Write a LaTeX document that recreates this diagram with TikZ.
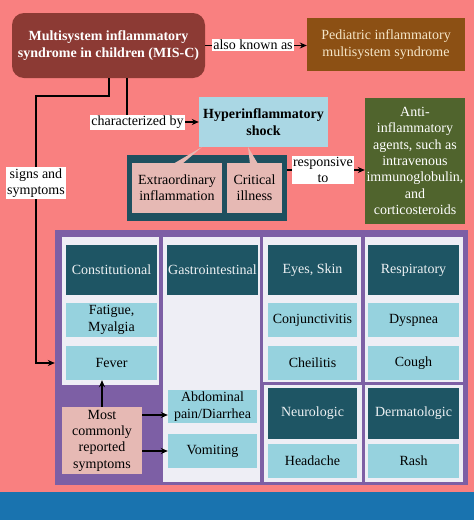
\documentclass[tikz,border=0pt]{standalone}
\usepackage{fontspec}
\setmainfont{Liberation Serif}
\usetikzlibrary{arrows.meta}
\definecolor{sfondo}{RGB}{249,128,128}
\definecolor{barra}{RGB}{25,115,175}
\definecolor{misc}{RGB}{140,58,52}
\definecolor{marrone}{RGB}{140,80,20}
\definecolor{crema}{RGB}{245,230,200}
\definecolor{iper}{RGB}{170,215,228}
\definecolor{petrolio}{RGB}{30,80,95}
\definecolor{rosa}{RGB}{230,185,180}
\definecolor{oliva}{RGB}{80,100,45}
\definecolor{viola}{RGB}{125,95,165}
\definecolor{pannello}{RGB}{238,238,245}
\definecolor{testa}{RGB}{30,85,100}
\definecolor{voce}{RGB}{150,210,222}
\newcommand\mainfs{\fontsize{14}{16.3}\selectfont}
\tikzset{
>={Stealth[length=7pt,width=6pt]},
box node/.style={inner sep=0pt,align=center},
head node/.style={box node,fill=testa,text=white!92!testa,minimum height=50pt},
item node/.style={box node,fill=voce,minimum height=34pt},
pink node/.style={box node,fill=rosa},
label node/.style={fill=white,inner sep=1pt,align=center},
freccia/.style={->,line width=1.1pt}}

\begin{document}
\begin{tikzpicture}[x=1pt,y=-1pt,font=\mainfs]

\fill[sfondo] (0,0) rectangle (474,492);
\fill[barra] (0,492) rectangle (474,520);
\useasboundingbox (0,0) rectangle (474,520);

\node[box node,fill=misc,text=white,font=\mainfs\bfseries,rounded corners=12pt,
  minimum width=193pt,minimum height=65pt] (misc) at (108.5,45.5)
  {Multisystem inflammatory\\syndrome in children (MIS-C)};
\node[box node,fill=marrone,text=crema,minimum width=158pt,minimum height=53pt]
  (pim) at (386,44.5) {Pediatric inflammatory\\multisystem syndrome};
\node[box node,fill=iper,font=\mainfs\bfseries,minimum width=129pt,minimum height=50pt]
  (hyper) at (263.5,122) {Hyperinflammatory\\shock};
\node[box node,fill=oliva,text=white,minimum width=100pt,minimum height=126pt]
  (anti) at (415,161) {Anti-\\inflammatory\\agents, such as\\intravenous\\immunoglobulin,\\and\\corticosteroids};

\node[fill=petrolio,minimum width=160pt,minimum height=66pt] (shockframe) at (207,188) {};
\fill[rosa] (173,164) -- (202,147) -- (182,164) -- cycle;
\fill[rosa] (250,164) -- (248,147) -- (258,164) -- cycle;
\node[pink node,minimum width=90pt,minimum height=50pt] (extra) at (177,188)
  {Extraordinary\\inflammation};
\node[pink node,minimum width=55pt,minimum height=50pt] (crit) at (254.5,188)
  {Critical\\illness};

\node[fill=viola,minimum width=413pt,minimum height=255pt] (frame) at (261.5,357.5) {};
\fill[pannello] (62,237) rectangle (159,385);
\fill[pannello] (163,237) rectangle (260,482);
\fill[pannello] (263,237) rectangle (361,382);
\fill[pannello] (365,237) rectangle (463,382);
\fill[pannello] (264,385) rectangle (362,482);
\fill[pannello] (365,385) rectangle (463,482);

\node[head node,minimum width=91pt] (const) at (111.5,270) {Constitutional};
\node[head node,minimum width=91pt] (gastro) at (212.5,270) {Gastrointestinal};
\node[head node,minimum width=89pt] (eyes) at (312.5,270) {Eyes, Skin};
\node[head node,minimum width=91pt] (resp) at (413.5,270) {Respiratory};

\node[item node,minimum width=91pt] (fatigue) at (111.5,320) {Fatigue,\\Myalgia};
\node[item node,minimum width=91pt] (fever) at (111.5,363) {Fever};
\node[item node,minimum width=89pt] (conj) at (312.5,320) {Conjunctivitis};
\node[item node,minimum width=89pt] (cheil) at (312.5,363) {Cheilitis};
\node[item node,minimum width=91pt] (dysp) at (413.5,320) {Dyspnea};
\node[item node,minimum width=91pt] (cough) at (413.5,363) {Cough};

\node[head node,minimum width=89pt,minimum height=51pt] (neuro) at (312.5,413.5) {Neurologic};
\node[item node,minimum width=89pt] (headache) at (312.5,461) {Headache};
\node[head node,minimum width=91pt,minimum height=51pt] (derm) at (413.5,413.5) {Dermatologic};
\node[item node,minimum width=91pt] (rash) at (413.5,461) {Rash};

\node[item node,minimum width=89pt,minimum height=33pt] (abd) at (212.5,406.5)
  {Abdominal\\pain/Diarrhea};
\node[item node,minimum width=89pt] (vom) at (212.5,451) {Vomiting};
\node[pink node,minimum width=80pt,minimum height=67pt] (most) at (102,440.5)
  {Most\\commonly\\reported\\symptoms};

\draw[freccia] (misc.east) -- (misc.east -| pim.west);
\node[label node] (aka) at (253,45) {also known as};
\draw[freccia] (misc.south -| 127,0) |- (hyper.west);
\node[label node] (char) at (137.5,122.5) {characterized by};
\draw[freccia] (misc.south -| 109,0) |- (36,96) |- (fever -| frame.west);
\node[label node] (signs) at (36,183) {signs and\\symptoms};
\draw[freccia] (shockframe.east |- 0,170) -- (anti.west |- 0,170);
\node[label node] (respto) at (323,170) {responsive\\to};

\draw[freccia] (most.north) -- (most.north |- fever.south);
\draw[freccia] ([yshift=25.5pt]most.east) -- ([yshift=25.5pt]most.east -| abd.west);
\draw[freccia] ([yshift=-10.5pt]most.east) -- (vom.west);

\end{tikzpicture}
\end{document}
